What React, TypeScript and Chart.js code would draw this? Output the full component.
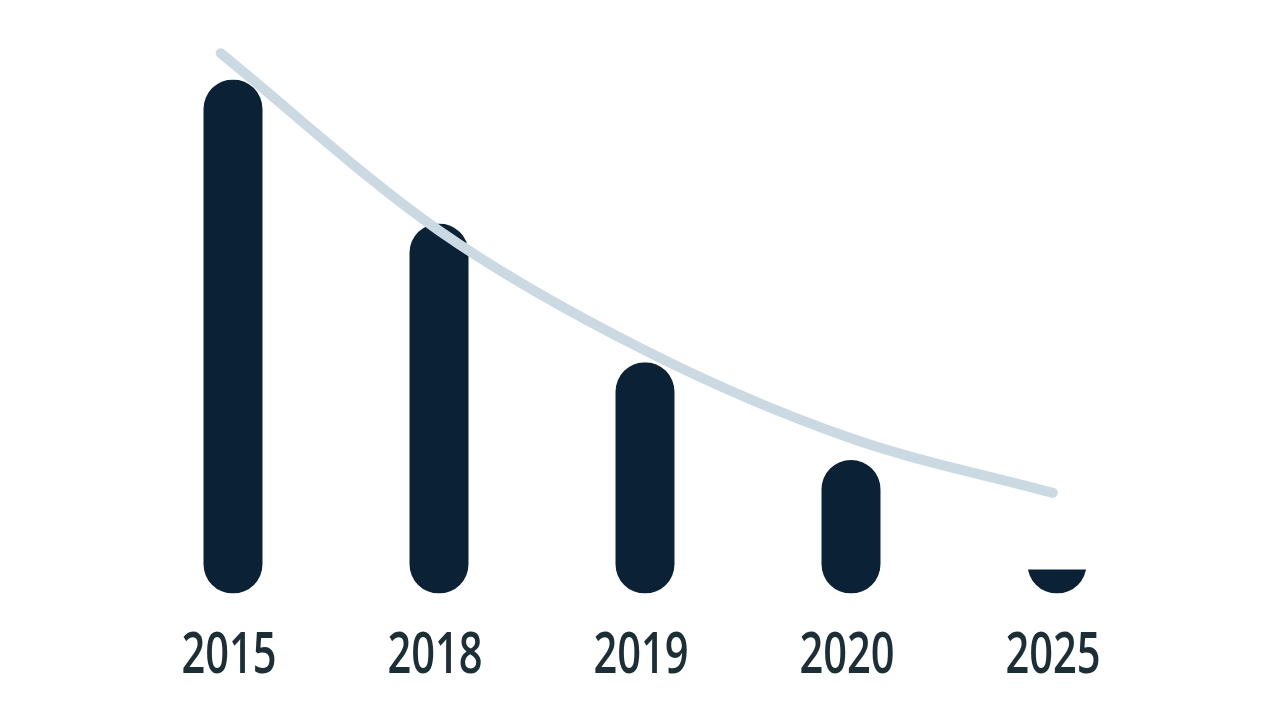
import React, { useEffect, useRef } from "react";
import { Chart, registerables } from "chart.js";

Chart.register(...registerables);

const categories = ["2015", "2018", "2019", "2020", "2025"];
const barValues = [100, 72, 45, 26, 4.7];
const trendX = [-0.06, 1, 2, 3, 3.98];
const trendY = [105.1, 70.6, 47.3, 30.2, 19.6];

const BAR_COLOR = "#0b2236";
const LINE_COLOR = "#cbd9e3";
const LABEL_COLOR = "#1c2f37";
const LABEL_SCALE_X = 0.73;
const LABEL_SHIFT_X = -4;

const capsulePlugin = {
  id: "capsuleBars",
  beforeDatasetDraw(chart: any, args: any) {
    if (args.index !== 0) return;
    const ctx = chart.ctx;
    const meta = args.meta;
    ctx.save();
    ctx.beginPath();
    meta._origY = [];
    meta.data.forEach((el: any, i: number) => {
      const top = Math.min(el.y, el.base);
      const bottom = Math.max(el.y, el.base);
      ctx.rect(el.x - el.width / 2 - 1, top, el.width + 2, bottom - top + 1);
      meta._origY[i] = el.y;
      if (bottom - top < el.width) {
        el.y = el.base - el.width;
      }
    });
    ctx.clip();
  },
  afterDatasetDraw(chart: any, args: any) {
    if (args.index !== 0) return;
    const meta = args.meta;
    meta.data.forEach((el: any, i: number) => {
      el.y = meta._origY[i];
    });
    chart.ctx.restore();
  },
};

// Draws tick label text horizontally condensed (the reference uses a condensed face).
const condensedTextPlugin = {
  id: "condensedText",
  beforeDraw(chart: any) {
    const ctx = chart.ctx;
    const orig = ctx.fillText;
    chart.$origFillText = orig;
    ctx.fillText = function (text: string, x: number, y: number, maxWidth?: number) {
      this.save();
      this.translate(LABEL_SHIFT_X, 0);
      this.scale(LABEL_SCALE_X, 1);
      if (maxWidth === undefined) orig.call(this, text, x / LABEL_SCALE_X, y);
      else orig.call(this, text, x / LABEL_SCALE_X, y, maxWidth / LABEL_SCALE_X);
      this.restore();
    };
  },
  afterDraw(chart: any) {
    if (chart.$origFillText) chart.ctx.fillText = chart.$origFillText;
  },
};

export default function App() {
  const canvasRef = useRef<HTMLCanvasElement | null>(null);

  useEffect(() => {
    document.body.style.margin = "0";
    const canvas = canvasRef.current;
    if (!canvas) return;
    const chart = new Chart(canvas, {
      type: "bar",
      data: {
        labels: categories,
        datasets: [
          {
            type: "bar",
            data: barValues,
            backgroundColor: BAR_COLOR,
            borderRadius: 40,
            borderSkipped: false,
            grouped: false,
            categoryPercentage: 1,
            barPercentage: 0.2864,
            xAxisID: "x",
            yAxisID: "y",
            order: 2,
          } as any,
          {
            type: "line",
            data: trendX.map((x, i) => ({ x, y: trendY[i] })),
            borderColor: LINE_COLOR,
            borderWidth: 10,
            borderCapStyle: "round",
            pointRadius: 0,
            cubicInterpolationMode: "monotone",
            fill: false,
            xAxisID: "xl",
            yAxisID: "y",
            order: 1,
          } as any,
        ],
      },
      options: {
        animation: false,
        responsive: false,
        maintainAspectRatio: false,
        devicePixelRatio: 1,
        layout: { padding: { left: 130, right: 120, top: 28, bottom: 0 } },
        plugins: {
          legend: { display: false },
          tooltip: { enabled: false },
        },
        scales: {
          x: {
            type: "category",
            offset: true,
            grid: { display: false, drawTicks: false },
            border: { display: false },
            ticks: {
              color: LABEL_COLOR,
              padding: 29,
              font: { family: "'Open Sans', 'Noto Sans', sans-serif", size: 57, weight: "600" },
            },
          },
          xl: {
            type: "linear",
            display: false,
            offset: false,
            grid: { offset: false },
            min: -0.5,
            max: 4.5,
          },
          y: {
            display: false,
            min: 0,
            max: 110,
          },
        },
      },
      plugins: [capsulePlugin, condensedTextPlugin],
    });
    return () => chart.destroy();
  }, []);

  return (
    <div style={{ position: "fixed", left: 0, top: 0, width: 1280, height: 720, background: "#ffffff" }}>
      <canvas ref={canvasRef} width={1280} height={720} style={{ width: 1280, height: 720 }} />
    </div>
  );
}
